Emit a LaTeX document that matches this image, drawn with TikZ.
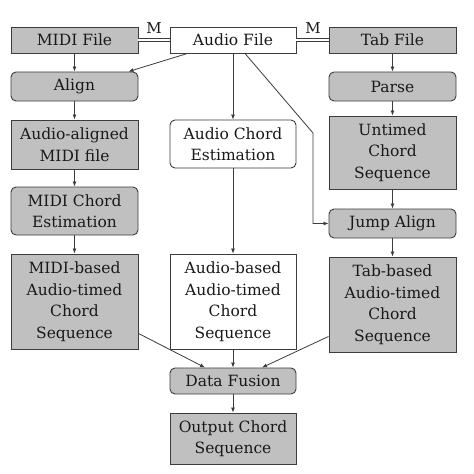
\documentclass[tikz,border=0pt]{standalone}
\usepackage{fontspec}
\setmainfont{DejaVu Serif}
\usetikzlibrary{arrows.meta,calc}
\definecolor{boxgray}{RGB}{192,192,192}
\definecolor{linegray}{RGB}{60,60,60}
\begin{document}
\begin{tikzpicture}[x=1pt,y=-1pt,
  base/.style={draw=linegray,line width=0.9pt,inner sep=0pt,align=center,
    font=\fontsize{15.5}{21.5}\selectfont,text=black!90,minimum width=127pt},
  gbox/.style={base,fill=boxgray},
  wbox/.style={base,fill=white},
  rbox/.style={gbox,rounded corners=5pt},
  rwbox/.style={wbox,rounded corners=5pt},
  conn/.style={draw=linegray,line width=0.8pt,-{Latex[length=5pt,width=4pt]}},
  mlink/.style={draw=linegray,double=white,double distance=2pt,line width=0.6pt},
  mlab/.style={font=\fontsize{15}{16}\selectfont,inner sep=0pt,text=black!90}]
\useasboundingbox[fill=white] (0,0) rectangle (474,474);
\node[gbox,minimum height=26pt] (midi) at (74.5,40) {MIDI File};
\node[wbox,minimum height=26pt,minimum width=126pt] (audio) at (233,40) {Audio File};
\node[gbox,minimum height=26pt] (tab) at (392.5,40) {Tab File};
\node[rbox,minimum height=29pt] (align) at (74.5,86.5) {Align};
\node[rbox,minimum height=29pt] (parse) at (392.5,86.5) {Parse};
\node[gbox,minimum height=49pt] (aligned) at (74.5,144.5) {Audio-aligned\\MIDI file};
\node[rwbox,minimum height=48pt,minimum width=126pt] (ace) at (233,144) {Audio Chord\\Estimation};
\node[gbox,minimum height=73pt] (untimed) at (392.5,152.5) {Untimed\\Chord\\Sequence};
\node[rbox,minimum height=48pt] (mce) at (74.5,211) {MIDI Chord\\Estimation};
\node[rbox,minimum height=29pt] (jump) at (392.5,223.5) {Jump Align};
\node[gbox,minimum height=95pt] (midib) at (74.5,301.5) {MIDI-based\\Audio-timed\\Chord\\Sequence};
\node[wbox,minimum height=95pt,minimum width=126pt] (audiob) at (233,301.5) {Audio-based\\Audio-timed\\Chord\\Sequence};
\node[gbox,minimum height=95pt] (tabb) at (392.5,304.5) {Tab-based\\Audio-timed\\Chord\\Sequence};
\node[rbox,minimum height=26pt,minimum width=126pt] (fusion) at (233,381) {Data Fusion};
\node[gbox,minimum height=51pt,minimum width=126pt] (output) at (233,438.5) {Output Chord\\Sequence};
\node[mlab] (m1) at (154,28.5) {M};
\node[mlab] (m2) at (313,28.5) {M};
\draw[mlink] (midi.east) -- (audio.west);
\draw[mlink] (audio.east) -- (tab.west);
\draw[conn] (midi) -- (align);
\draw[conn] ($(audio.south west)+(18,0)$) -- ($(align.north east)+(-10,0)$);
\draw[conn] (audio) -- (ace);
\coordinate (bend) at (313,133);
\draw[conn] ($(audio.south)+(12,0)$) -- (bend) |- (jump.west);
\draw[conn] (tab) -- (parse);
\draw[conn] (parse) -- (untimed);
\draw[conn] (untimed) -- (jump);
\draw[conn] (jump) -- (tabb);
\draw[conn] (align) -- (aligned);
\draw[conn] (aligned) -- (mce);
\draw[conn] (mce) -- (midib);
\draw[conn] (ace) -- (audiob);
\draw[conn] ($(midib.south east)+(0,-16)$) -- ($(fusion.north)+(-28,0)$);
\draw[conn] (audiob) -- (fusion);
\draw[conn] ($(tabb.south west)+(0,-16)$) -- ($(fusion.north)+(29,0)$);
\draw[conn] (fusion) -- (output);
\end{tikzpicture}
\end{document}
